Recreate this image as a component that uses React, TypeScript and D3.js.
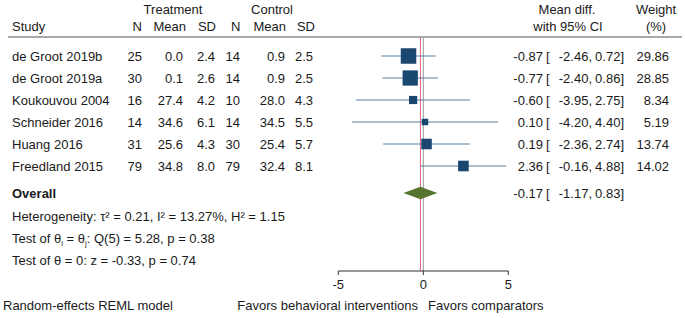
import React from "react";
import * as d3 from "d3";

const studies = ["de Groot 2019b", "de Groot 2019a", "Koukouvou 2004", "Schneider 2016", "Huang 2016", "Freedland 2015"];
const tN = [25, 30, 16, 14, 31, 79];
const tMean = [0.0, 0.1, 27.4, 34.6, 25.6, 34.8];
const tSD = [2.4, 2.6, 4.2, 6.1, 4.3, 8.0];
const cN = [14, 14, 10, 14, 30, 79];
const cMean = [0.9, 0.9, 28.0, 34.5, 25.4, 32.4];
const cSD = [2.5, 2.5, 4.3, 5.5, 5.7, 8.1];
const est = [-0.87, -0.77, -0.6, 0.1, 0.19, 2.36];
const lo = [-2.46, -2.4, -3.95, -4.2, -2.36, -0.16];
const hi = [0.72, 0.86, 2.75, 4.4, 2.74, 4.88];
const weight = [29.86, 28.85, 8.34, 5.19, 13.74, 14.02];
const overallEst = -0.17;
const overallLo = -1.17;
const overallHi = 0.83;
const xTicks = [-5, 0, 5];

const FONT = "'Liberation Sans', Arial, Helvetica, sans-serif";
const TXT = "#1a1a1a";

const locale = d3.formatLocale({ decimal: ".", thousands: ",", grouping: [3], currency: ["", ""], minus: "-" });

export default function App() {
  const x = d3.scaleLinear().domain([-5, 5]).range([338.3, 508.3]);
  const rowY = d3.scaleLinear().domain([0, 1]).range([56, 78]);
  const size = d3.scaleSqrt().domain([0, 29.86]).range([0, 15.5]);
  const f1 = locale.format(".1f");
  const f2 = locale.format(".2f");
  const fT = locale.format("d");
  const overallY = 193;
  const ruleY = 37;
  const axisY = 271;
  const fs = 13;
  const off = 5; // text baseline offset from row center

  const ciPieces = (e: number, l: number, h: number, y: number, key: string) => (
    <g key={key} fontSize={fs} fill={TXT}>
      <text x={543} y={y + off} textAnchor="end">{f2(e)}</text>
      <text x={546} y={y + off}>[</text>
      <text x={592} y={y + off} textAnchor="end">{f2(l)},</text>
      <text x={624} y={y + off} textAnchor="end">{f2(h)}]</text>
    </g>
  );

  const diamond = d3.line<[number, number]>()([
    [x(overallLo), overallY],
    [x(overallEst), overallY - 6.3],
    [x(overallHi), overallY],
    [x(overallEst), overallY + 6.3],
  ]) + "Z";

  return (
    <svg width={685} height={318} style={{ position: "absolute", left: 0, top: 0, background: "#fff" }} fontFamily={FONT}>
      <rect width={685} height={318} fill="#fff" />
      {/* headers */}
      <g fontSize={fs} fill={TXT}>
        <text x={173} y={14} textAnchor="middle">Treatment</text>
        <text x={272} y={14} textAnchor="middle">Control</text>
        <text x={12} y={31}>Study</text>
        <text x={142} y={31} textAnchor="end">N</text>
        <text x={186} y={31} textAnchor="end">Mean</text>
        <text x={216} y={31} textAnchor="end">SD</text>
        <text x={240.5} y={31} textAnchor="end">N</text>
        <text x={286} y={31} textAnchor="end">Mean</text>
        <text x={315} y={31} textAnchor="end">SD</text>
        <text x={567} y={14} textAnchor="middle">Mean diff.</text>
        <text x={568} y={31} textAnchor="middle">with 95% CI</text>
        <text x={656} y={14} textAnchor="middle">Weight</text>
        <text x={656} y={31} textAnchor="middle">(%)</text>
      </g>
      <line x1={8} x2={682} y1={ruleY} y2={ruleY} stroke="#555" strokeWidth={1.2} />

      {/* reference lines */}
      <line x1={x(0)} x2={x(0)} y1={ruleY + 1} y2={axisY} stroke="#999" strokeWidth={1} />
      <line x1={x(overallEst)} x2={x(overallEst)} y1={ruleY + 1} y2={axisY} stroke="#e06080" strokeWidth={1} />

      {/* study rows */}
      {studies.map((s, i) => {
        const y = rowY(i);
        const sz = size(weight[i]);
        return (
          <g key={s}>
            <g fontSize={fs} fill={TXT}>
              <text x={12} y={y + off}>{s}</text>
              <text x={142} y={y + off} textAnchor="end">{fT(tN[i])}</text>
              <text x={183} y={y + off} textAnchor="end">{f1(tMean[i])}</text>
              <text x={215} y={y + off} textAnchor="end">{f1(tSD[i])}</text>
              <text x={240} y={y + off} textAnchor="end">{fT(cN[i])}</text>
              <text x={285} y={y + off} textAnchor="end">{f1(cMean[i])}</text>
              <text x={313} y={y + off} textAnchor="end">{f1(cSD[i])}</text>
              <text x={669} y={y + off} textAnchor="end">{f2(weight[i])}</text>
            </g>
            {ciPieces(est[i], lo[i], hi[i], y, "ci" + i)}
            <line x1={x(lo[i])} x2={x(hi[i])} y1={y} y2={y} stroke="#5a7ca0" strokeWidth={1.2} />
            <rect x={x(est[i]) - sz / 2} y={y - sz / 2} width={sz} height={sz} fill="#1a476f" />
          </g>
        );
      })}

      {/* overall */}
      <text x={12} y={overallY + off} fontSize={fs} fontWeight="bold" fill={TXT}>Overall</text>
      <path d={diamond} fill="#55752f" />
      {ciPieces(overallEst, overallLo, overallHi, overallY, "ov")}

      <g fontSize={fs} fill={TXT}>
        <text x={12} y={221}>Heterogeneity: τ² = 0.21, I² = 13.27%, H² = 1.15</text>
        <text x={12} y={243}>
          Test of θ<tspan fontSize={8} dy={3}>i</tspan><tspan dy={-3}> = θ</tspan><tspan fontSize={8} dy={3}>j</tspan><tspan dy={-3}>: Q(5) = 5.28, p = 0.38</tspan>
        </text>
        <text x={12} y={265}>Test of θ = 0: z = -0.33, p = 0.74</text>
      </g>

      {/* axis */}
      <line x1={x(-5)} x2={x(5)} y1={axisY} y2={axisY} stroke="#333" strokeWidth={1} />
      {xTicks.map((t) => (
        <g key={t}>
          <line x1={x(t)} x2={x(t)} y1={axisY} y2={axisY + 4} stroke="#333" strokeWidth={1} />
          <text x={x(t)} y={axisY + 18} textAnchor="middle" fontSize={fs} fill={TXT}>{fT(t)}</text>
        </g>
      ))}
      <g fontSize={fs} fill={TXT}>
        <text x={418} y={310} textAnchor="end">Favors behavioral interventions</text>
        <text x={428} y={310}>Favors comparators</text>
        <text x={3} y={310}>Random-effects REML model</text>
      </g>
    </svg>
  );
}
